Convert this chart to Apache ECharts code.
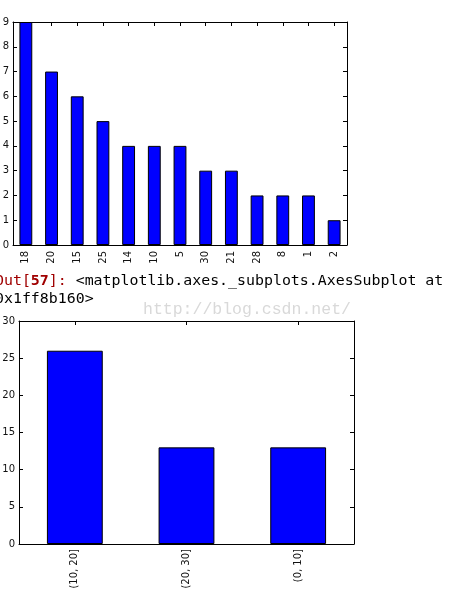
<!DOCTYPE html>
<html>
<head>
<meta charset="utf-8">
<script src="https://cdn.jsdelivr.net/npm/echarts@6/dist/echarts.min.js"></script>
<style>
html,body{margin:0;padding:0;background:#fff;}
#chart{width:476px;height:601px;}
</style>
</head>
<body>
<div id="chart"></div>
<script>
// ---- data ----
const topCategories = ['18','20','15','25','14','10','5','30','21','28','8','1','2'];
const topValues = [9,7,6,5,4,4,4,3,3,2,2,2,1];
const topTicks = [0,1,2,3,4,5,6,7,8,9];

const bottomCategories = ['(10, 20]','(20, 30]','(0, 10]'];
const bottomValues = [26,13,13];
const bottomTicks = [0,5,10,15,20,25,30];

const outPromptOpen = 'Out[';
const outPromptNum = '57';
const outPromptClose = ']:';
const outLine1Rest = ' <matplotlib.axes._subplots.AxesSubplot at';
const outLine2 = '0x1ff8b160>';
const watermark = 'http://blog.csdn.net/';

// ---- chart ----
const FONT = 'DejaVu Sans';
const labelStyle = {color:'#111', fontFamily:FONT, fontSize:10};

function catAxis(gridIndex, cats, position, showLabels, margin){
  return {
    type:'category', gridIndex, data:cats, position,
    boundaryGap:true,
    axisLine:{show:true, onZero:false, lineStyle:{color:'#000', width:1}},
    axisTick:{show:true, inside:true, length:4, alignWithLabel:true, lineStyle:{color:'#000'}},
    axisLabel:Object.assign({show:showLabels, rotate:90, margin:margin, interval:0}, labelStyle),
    splitLine:{show:false}
  };
}
function valAxis(gridIndex, max, interval, position, showLabels){
  return {
    type:'value', gridIndex, min:0, max, interval, position,
    axisLine:{show:true, onZero:false, lineStyle:{color:'#000', width:1}},
    axisTick:{show:true, inside:true, length:4, lineStyle:{color:'#000'}},
    axisLabel:Object.assign({show:showLabels, margin:4}, labelStyle),
    splitLine:{show:false}
  };
}

const chart = echarts.init(document.getElementById('chart'), null, {renderer:'canvas'});
const mono = 'DejaVu Sans Mono';
const monoSize = 14.9;
chart.setOption({
  animation:false,
  backgroundColor:'#fff',
  grid:[
    {left:13, right:129, top:22, bottom:356, outerBoundsMode:'none', containLabel:false},
    {left:19, right:122, top:321, bottom:57, outerBoundsMode:'none', containLabel:false}
  ],
  xAxis:[
    catAxis(0, topCategories, 'bottom', true, 6),
    catAxis(0, topCategories, 'top', false, 6),
    catAxis(1, bottomCategories, 'bottom', true, 5),
    catAxis(1, bottomCategories, 'top', false, 5)
  ],
  yAxis:[
    valAxis(0, topTicks[topTicks.length-1], topTicks[1]-topTicks[0], 'left', true),
    valAxis(0, topTicks[topTicks.length-1], topTicks[1]-topTicks[0], 'right', false),
    valAxis(1, bottomTicks[bottomTicks.length-1], bottomTicks[1]-bottomTicks[0], 'left', true),
    valAxis(1, bottomTicks[bottomTicks.length-1], bottomTicks[1]-bottomTicks[0], 'right', false)
  ],
  series:[
    {type:'bar', xAxisIndex:0, yAxisIndex:0, data:topValues, barWidth:'50%',
     itemStyle:{color:'#0000ff', borderColor:'#000', borderWidth:1}, silent:true},
    {type:'bar', xAxisIndex:2, yAxisIndex:2, data:bottomValues, barWidth:'50%',
     itemStyle:{color:'#0000ff', borderColor:'#000', borderWidth:1}, silent:true}
  ],
  graphic:[
    {type:'text', left:-5, top:274, silent:true, z:10,
     style:{
       text:'{r|' + outPromptOpen + '}{b|' + outPromptNum + '}{r|' + outPromptClose + '}{t|' + outLine1Rest + '}',
       rich:{
         r:{fill:'#a00000', fontFamily:mono, fontSize:monoSize},
         b:{fill:'#a00000', fontFamily:mono, fontSize:monoSize, fontWeight:'bold'},
         t:{fill:'#000', fontFamily:mono, fontSize:monoSize}
       }
     }},
    {type:'text', left:-5, top:292, silent:true, z:10,
     style:{text:outLine2, fill:'#000', fontFamily:mono, fontSize:monoSize}},
    {type:'text', left:143, top:301, silent:true, z:0,
     style:{text:watermark, fill:'#d9d9d9', fontFamily:'Liberation Mono', fontSize:16.5}}
  ]
});
</script>
</body>
</html>
